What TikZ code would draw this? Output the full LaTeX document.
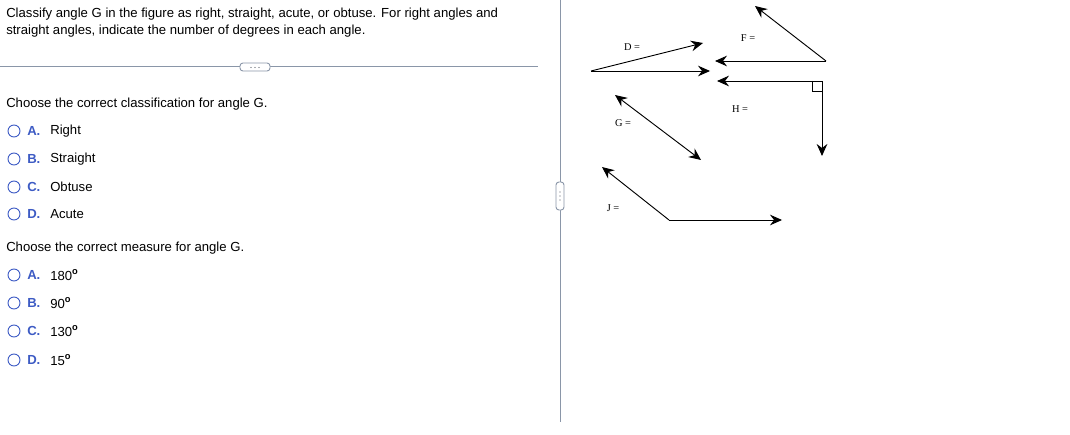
\documentclass[tikz,border=0pt]{standalone}
\usepackage{fontspec}
\setmainfont{Liberation Sans}
\newfontfamily\serifl{Liberation Serif}
\usetikzlibrary{arrows.meta}
\definecolor{optblue}{HTML}{3D5BC4}
\definecolor{rulegray}{HTML}{8A96A8}
\begin{document}
\begin{tikzpicture}[x=0.75pt,y=-0.75pt,
  txt/.style={anchor=west,inner sep=0pt,font=\fontsize{9.85pt}{11pt}\selectfont},
  lbl/.style={inner sep=0pt,font=\serifl\fontsize{7.8pt}{9pt}\selectfont},
  tip/.tip={Stealth[length=9pt,width=8pt,inset=3pt]},
  ray/.style={line width=0.7pt,-tip},
  opt/.style={draw=optblue,line width=0.7pt,circle,minimum size=9pt,inner sep=0pt},
  pill/.style={draw=rulegray,fill=white,rounded corners=2.2pt,line width=0.7pt}]
\useasboundingbox (0,0) rectangle (1070,435);
% header
\node[txt] (q1) at (6,14) {Classify angle G in the figure as right, straight, acute, or obtuse. For right angles and};
\node[txt] (q2) at (6,31) {straight angles, indicate the number of degrees in each angle.};
\draw[rulegray,line width=0.6pt] (0,66) -- (538,66);
\node[pill,minimum width=22.5pt,minimum height=6pt,inner sep=0pt] (p1) at (255,67) {};
\foreach \i in {-4,0,4} \fill[rulegray!60!black] (255+\i,67.5) circle (0.55pt);
\draw[rulegray,line width=0.6pt] (560,0) -- (560,422);
\node[pill,minimum width=6pt,minimum height=21pt,inner sep=0pt] (p2) at (560,196) {};
\foreach \i in {-4,0,4} \fill[rulegray!60!black] (560,196+\i) circle (0.55pt);
% question 1
\node[txt] (c1) at (6,104) {Choose the correct classification for angle G.};
\foreach \y/\l/\t [count=\k] in {131/A./Right,159/B./Straight,187/C./Obtuse,214/D./Acute}{
  \node[opt] (o\k) at (14,\y) {};
  \node[txt,text=optblue,font=\fontsize{9.85pt}{11pt}\selectfont\bfseries] (l\k) at (27,\y) {\l};
  \node[txt] (t\k) at (50,\y) {\t};
}
% question 2
\node[txt] (c2) at (6,248) {Choose the correct measure for angle G.};
\foreach \y/\l/\t [count=\k] in {275/A./180,303/B./90,331/C./130,360/D./15}{
  \node[opt] (m\k) at (14,\y) {};
  \node[txt,text=optblue,font=\fontsize{9.85pt}{11pt}\selectfont\bfseries] (ml\k) at (27,\y) {\l};
  \node[txt] (mt\k) at (50,\y) {\t\raisebox{0.9ex}{\fontsize{7pt}{8pt}\selectfont\bfseries o}};
}
% angle D
\coordinate (dv) at (591,71); \coordinate (d1) at (703,43); \coordinate (d2) at (710,71);
\draw[ray] (dv) -- (d1); \draw[ray] (dv) -- (d2);
\node[lbl] (dl) at (632,47) {D =};
% angle F
\coordinate (fv) at (826,61); \coordinate (f1) at (755,6); \coordinate (f2) at (715,61);
\draw[ray] (fv) -- (f1); \draw[ray] (fv) -- (f2);
\node[lbl] (fl) at (748,38) {F =};
% angle H
\coordinate (hv) at (822,81); \coordinate (h1) at (717,81); \coordinate (h2) at (822,156);
\draw[ray] (hv) -- (h1); \draw[ray] (hv) -- (h2);
\draw[line width=0.7pt] (812,81) -- (812,91) -- (822,91);
\node[lbl] (hl) at (740,109) {H =};
% angle G
\coordinate (g1) at (615,95); \coordinate (g2) at (701,160);
\draw[line width=0.7pt,tip-tip] (g1) -- (g2);
\node[lbl] (gl) at (623,123) {G =};
% angle J
\coordinate (jv) at (669,220); \coordinate (j1) at (602,167); \coordinate (j2) at (782,220);
\draw[ray] (jv) -- (j1); \draw[ray] (jv) -- (j2);
\node[lbl] (jl) at (613,208) {J =};
\end{tikzpicture}
\end{document}
